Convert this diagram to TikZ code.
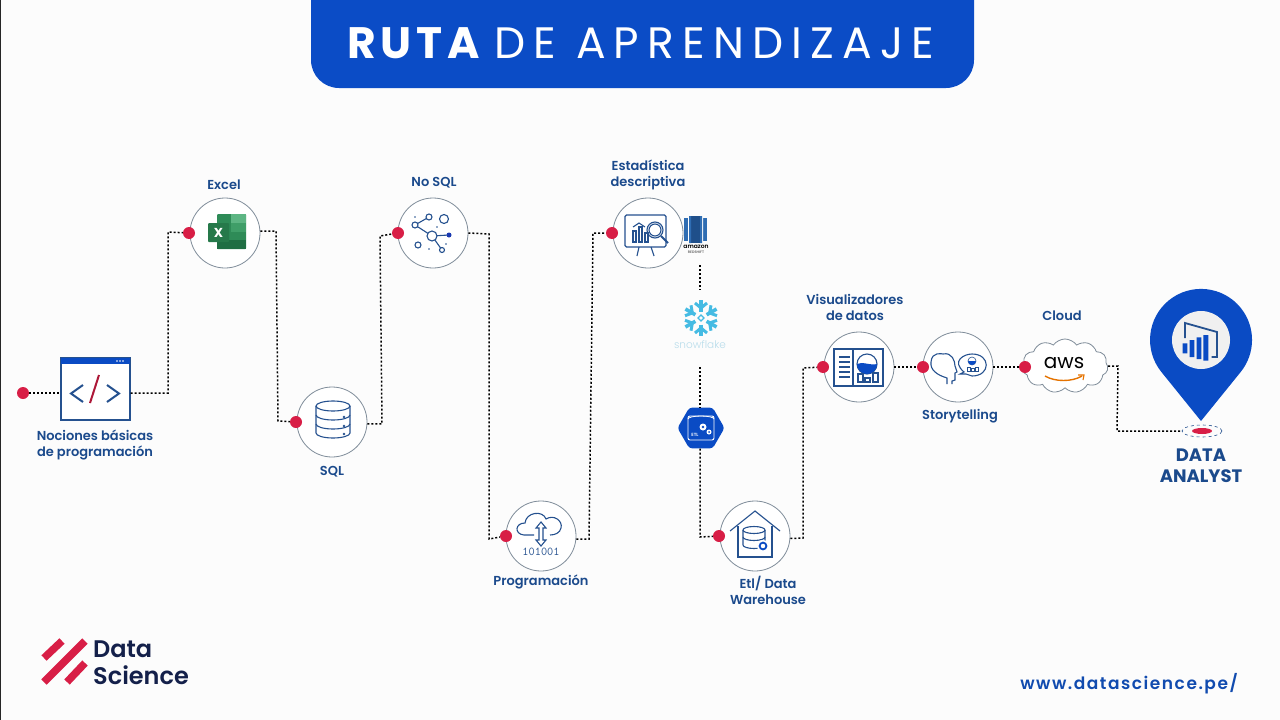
\documentclass[tikz,border=0pt]{standalone}
\usepackage{fontspec}
\setmainfont{Poppins}[UprightFont=* SemiBold,BoldFont=* Bold]
\newfontfamily\titlelight{Poppins}[LetterSpace=18.6]
\newfontfamily\titlebold{Poppins}[UprightFont=* Bold,LetterSpace=11]
\newfontfamily\thinfont{Poppins Light}
\newfontfamily\plainfont{Poppins}
\newfontfamily\urlfont{Poppins}[UprightFont=* SemiBold,LetterSpace=9]
\usetikzlibrary{shapes.geometric,shapes.symbols}
\definecolor{titleblue}{HTML}{0B4CC6}
\definecolor{labelblue}{HTML}{1B4A8C}
\definecolor{iconblue}{HTML}{25518F}
\definecolor{pinblue}{HTML}{0A4BC4}
\definecolor{dotred}{HTML}{D81E46}
\definecolor{ringgray}{HTML}{7F8C99}
\definecolor{logonavy}{HTML}{14204A}
\definecolor{snowblue}{HTML}{45BBE3}
\definecolor{xlback}{HTML}{2E8B57}
\definecolor{xllight}{HTML}{5DB583}
\definecolor{xlmid}{HTML}{3F9E68}
\definecolor{xldark}{HTML}{1F6E43}
\definecolor{xlfront}{HTML}{26794A}
\definecolor{redmid}{HTML}{2F6DB3}
\definecolor{reddark}{HTML}{1F4F8A}
\tikzset{
  lbl/.style={text=labelblue,align=center,inner sep=0,font=\fontsize{13}{16}\selectfont},
  ring/.style={circle,draw=ringgray,line width=.8pt,fill=white,minimum size=70pt,inner sep=0},
  dot/.style={circle,fill=dotred,minimum size=12pt,inner sep=0},
  route/.style={draw=black,line width=1.5pt,dash pattern=on 2pt off 2pt},
  ico/.style={draw=iconblue,line width=1.1pt},
}
\begin{document}
\begin{tikzpicture}[x=1pt,y=-1pt]
\useasboundingbox (0,0) rectangle (1280,720);
\fill[white!99!black] (0,0) rectangle (1280,720);
\fill[black!85] (0,0) rectangle (1,720);

% title
\fill[titleblue] (311,0) [rounded corners=28pt] -- (311,88) -- (974,88) [sharp corners] -- (974,0) -- cycle;
\node (title) at (641,43) [text=white,inner sep=0,font=\fontsize{44}{44}\selectfont] {\titlebold RUTA \titlelight DE APRENDIZAJE};

% steps
\path (23,393) node[dot] (dotstart) {}
      (95.5,389) node[draw=iconblue,line width=1.2pt,fill=white,minimum width=69pt,minimum height=62pt,inner sep=0] (code) {}
      (225,233) node[ring] (excel) {}
      (332,422) node[ring] (sql) {}
      (433,233) node[ring] (nosql) {}
      (541,536) node[ring] (prog) {}
      (648,233) node[ring] (stats) {}
      (755,536) node[ring] (etl) {}
      (859,367) node[ring] (viz) {}
      (958,367) node[ring] (story) {}
      (1065,366) node[cloud,cloud puffs=11,cloud puff arc=110,aspect=1.6,draw=ringgray,line width=.8pt,fill=white,minimum width=86pt,minimum height=54pt,inner sep=0] (aws) {}
      (701,428) node[regular polygon,regular polygon sides=6,fill=pinblue,minimum size=47pt,inner sep=0,rounded corners=3pt] (hex) {}
      (1202,431) node[ellipse,draw=iconblue,line width=.6pt,dashed,minimum width=40pt,minimum height=12pt,inner sep=0] (goal) {};
\path (189,233) node[dot] (dotexcel) {}
      (296,422) node[dot] (dotsql) {}
      (398,233) node[dot] (dotnosql) {}
      (506,536) node[dot] (dotprog) {}
      (612,233) node[dot] (dotstats) {}
      (719,536) node[dot] (dotetl) {}
      (823,367) node[dot] (dotviz) {}
      (923,367) node[dot] (dotstory) {}
      (1025,367) node[dot] (dotaws) {};
\coordinate (redbottom) at (700,265);
\coordinate (snowtop) at (700,290);
\coordinate (snowbottom) at (700,367);

% routes
\draw[route] (dotstart) -- (code.west |- dotstart);
\draw[route] (code.east |- dotstart) -- (168,393) -- (168,232) -- (dotexcel);
\draw[route] (excel.3) -- (276,231) -- (278,421) -- (dotsql);
\draw[route] (sql.-3) -- (382,424) -- (380,236) -- (dotnosql);
\draw[route] (nosql.east) -- (489,234) -- (489,539) -- (dotprog);
\draw[route] (prog.-5) -- (589,539) -- (593,233) -- (dotstats);
\draw[route] (redbottom) -- (snowtop);
\draw[route] (snowbottom) -- (hex.north -| snowbottom);
\draw[route] (hex.south -| snowbottom) -- (700,537) -- (dotetl);
\draw[route] (etl.-4) -- (803,538) -- (803,368) -- (dotviz);
\draw[route] (viz) -- (dotstory);
\draw[route] (story) -- (dotaws);
\draw[route] (aws.east) -- (1118,366) -- (1117,431) -- (goal.west);

% code window
\fill[pinblue] (61,358) rectangle (130,364);
\foreach \x in {117,120,123} \fill[white] (\x,361) circle[radius=.8];
\draw[iconblue,line width=2pt] (83,385) -- (71,393.5) -- (83,402);
\draw[iconblue,line width=2pt] (107,385) -- (119,393.5) -- (107,402);
\draw[dotred!80!black,line width=2pt] (99,375) -- (90,403);

% excel
\begin{scope}[shift={(225,233)}]
\fill[xlback,rounded corners=1pt] (-8,-19) rectangle (21,16);
\fill[xllight] (6,-19) rectangle (21,-10);
\fill[xlmid] (6,-10) rectangle (21,-1);
\fill[xldark] (-8,7) rectangle (21,16);
\fill[xlfront,rounded corners=1pt] (-17,-10) rectangle (4,9);
\node (excelx) at (-6.5,-.5) [text=white,inner sep=0,font=\fontsize{13}{13}\selectfont\bfseries] {X};
\end{scope}

% database
\begin{scope}[shift={(332,422)}]
\draw[ico] (-16,-16) -- (-16,11) arc[start angle=180,end angle=0,x radius=17,y radius=5] -- (18,-16);
\draw[ico] (1,-16) ellipse[x radius=17,y radius=5];
\draw[ico] (-16,-7) arc[start angle=180,end angle=0,x radius=17,y radius=5];
\draw[ico] (-16,2) arc[start angle=180,end angle=0,x radius=17,y radius=5];
\foreach \y in {-5,4,12} \fill[iconblue] (12,\y) circle[radius=1.4];
\end{scope}

% graph
\begin{scope}[shift={(433,233)}]
\draw[ico] (-18,-8) -- (-4,-16) (-18,-8) -- (-1,3) -- (16,2) (-1,3) -- (9,17);
\fill[white] (-1,3) circle[radius=5] (-18,-8) circle[radius=3] (-4,-16) circle[radius=3] (9,17) circle[radius=2.5];
\draw[ico] (-1,3) circle[radius=5] (-18,-8) circle[radius=3] (-4,-16) circle[radius=3] (9,17) circle[radius=2.5]
  (11,-14) circle[radius=4.5] (-15,12) circle[radius=3];
\fill[iconblue!70!blue] (16,2) circle[radius=2.5];
\fill[iconblue] (-18,-16) circle[radius=.8] (4,-6) circle[radius=.8] (-4,16) circle[radius=.8] (13,11) circle[radius=.8];
\end{scope}

% cloud with binary
\begin{scope}[shift={(541,536)}]
\draw[ico] (-7,-1) -- (-17,-1) .. controls (-27,-2) and (-26,-13) .. (-16,-13) .. controls (-15,-24) and (2,-26) .. (5,-17) .. controls (13,-22) and (22,-15) .. (20,-8) .. controls (19,-3) and (14,-1) .. (9,-1);
\draw[ico] (-5,-8) -- (0,-14) -- (5,-8) -- (2,-8) -- (2,4) -- (5,4) -- (0,10) -- (-5,4) -- (-2,4) -- (-2,-8) -- cycle;
\node (binary) at (0,16) [text=iconblue,inner sep=0,font=\fontsize{12}{12}\ttfamily] {101001};
\end{scope}

% board
\begin{scope}[shift={(648,233)}]
\draw[ico,rounded corners=1.5pt] (-23,-18) rectangle (18,14);
\draw[ico] (-9,14) -- (-11,23) (3,14) -- (6,23);
\fill[white] (7,-3) circle[radius=9];
\draw[ico] (7,-3) circle[radius=8] (7,-3) circle[radius=6];
\draw[ico,line width=1.8pt] (13,3) -- (20,10);
\draw[ico] (-15,-2) rectangle (-12,9) (-9,-6) rectangle (-6,9) (-3,0) rectangle (0,9);
\draw[ico] (-15,-6) -- (-9,-10) -- (-3,-6);
\end{scope}

% redshift
\fill[redmid] (684,218) rectangle (707,241);
\fill[white] (688,218) rectangle (689,241) (702,218) rectangle (703,241);
\fill[reddark] (691,216) rectangle (700,243);
\fill[redmid] (689,216) rectangle (691,243) (700,216) rectangle (702,243);
\node (redname) at (696,246.5) [inner sep=0,font=\fontsize{6}{6}\selectfont] {amazon};
\node (redsub) at (696,252) [inner sep=0,text=black!60,font=\fontsize{3.5}{3.5}\selectfont] {REDSHIFT};

% snowflake
\begin{scope}[shift={(701,318)}]
\foreach \a in {30,90,150,210,270,330} {
  \begin{scope}[rotate=\a]
  \draw[snowblue,line width=3.6pt] (6.5,0) -- (18,0);
  \draw[snowblue,line width=3pt] (15,-6) -- (10,0) -- (15,6);
  \end{scope}
}
\draw[snowblue,line width=1.3pt] (0,-3) -- (3,0) -- (0,3) -- (-3,0) -- cycle;
\end{scope}
\node (snowname) at (700,344.5) [inner sep=0,text=black!25!cyan!30,font=\fontsize{10.5}{10.5}\thinfont] {snowflake};

% etl badge
\begin{scope}[shift={(701,428)}]
\draw[white,line width=.9pt,rounded corners=2pt] (-13,-12) rectangle (13,12);
\draw[white,line width=.8pt] (-13,-9) arc[start angle=180,end angle=360,x radius=13,y radius=3];
\fill[white] (2,-1) circle[radius=3.5] (8,4) circle[radius=2.5];
\fill[pinblue] (2,-1) circle[radius=1.4] (8,4) circle[radius=1];
\node (etltag) at (-6,7) [text=white,inner sep=0,font=\fontsize{4.5}{4.5}\selectfont] {ETL};
\end{scope}

% warehouse
\begin{scope}[shift={(755,536)}]
\draw[ico] (-25,-5) -- (0,-25) -- (25,-5);
\draw[ico] (-17,-10) -- (-17,21) -- (17,21) -- (17,-10);
\fill[white] (-12,-6) rectangle (10,12);
\draw[ico] (-12,-6) -- (-12,9) arc[start angle=180,end angle=0,x radius=11,y radius=3.5] -- (10,-6);
\draw[ico] (-1,-6) ellipse[x radius=11,y radius=3.5];
\draw[ico] (-12,1) arc[start angle=180,end angle=0,x radius=11,y radius=3.5];
\fill[white] (8,10) circle[radius=6];
\draw[pinblue,line width=1.8pt] (8,10) circle[radius=3.4];
\end{scope}

% dashboard
\begin{scope}[shift={(859,367)}]
\draw[ico] (-25,-18) rectangle (24,19);
\draw[ico] (-6,-18) -- (-6,19);
\foreach \y in {-10,-5,0,5,10} \draw[ico] (-20,\y) -- (-9,\y);
\draw[ico] (8,-3) circle[radius=10];
\fill[pinblue] (18,-3) arc[start angle=0,end angle=180,radius=10] .. controls (3,-6) and (12,-1) .. (18,-3);
\draw[ico] (-1,7) rectangle (4,15) (6,11) rectangle (11,15) (14,6) rectangle (19,15);
\end{scope}

% head and bubble
\begin{scope}[shift={(958,367)}]
\draw[ico] (-11,17) -- (-11,11) .. controls (-21,8) and (-28,3) .. (-27,-5) .. controls (-26,-16) and (-16,-13) .. (-15,-13) .. controls (-6,-15) and (-3,-6) .. (-3,-1) -- (-1,5) -- (-3,6) -- (-3,13) -- (-6,14) -- (-6,17);
\draw[ico,fill=white] (2,7) -- (6,5) .. controls (-7,-6) and (6,-13) .. (14,-13) .. controls (33,-13) and (33,9) .. (14,9) -- (8,7) -- cycle;
\draw[ico,line width=.6pt] (14,-6) circle[radius=4];
\fill[pinblue] (18,-6) arc[start angle=0,end angle=180,radius=4] -- cycle;
\draw[ico,line width=.5pt] (9,0) rectangle (12,4) (13,1) rectangle (16,4) (17,0) rectangle (20,4);
\end{scope}

% aws mark
\node (awsname) at (1064,363) [inner sep=0,font=\fontsize{20}{20}\plainfont] {aws};
\draw[orange!90!black,line width=1.4pt] (1045,376) .. controls (1055,382) and (1072,382) .. (1082,376);
\draw[orange!90!black,line width=1.1pt] (1078,375) -- (1084,375) -- (1083,380);

% pin
\fill[pinblue] (1201,421) -- (1161.4,372) arc[start angle=141,end angle=399,radius=51] -- cycle;
\fill[black!6] (1201,340) circle[radius=29];
\begin{scope}[shift={(1201,340)}]
\fill[pinblue] (-18.3,3.3) rectangle (-13.7,13.3) (-11.3,0) rectangle (-6.7,17) (-4.3,-2.7) rectangle (.3,19) (2.3,-5) rectangle (7.3,20.7);
\draw[iconblue,line width=1.8pt] (-16,-2) -- (-16,-17) -- (16,-8) -- (16,17) -- (10.5,17);
\end{scope}
\fill[dotred] (1202,431) ellipse[x radius=10,y radius=3];

% labels
\node[lbl] (lblcode) at (95,445) {Nociones básicas\\de programación};
\node[lbl] (lblexcel) at (224,185) {Excel};
\node[lbl] (lblsql) at (332,472) {SQL};
\node[lbl] (lblnosql) at (434,183) {No SQL};
\node[lbl] (lblprog) at (541,582) {Programación};
\node[lbl] (lblstats) at (648,175) {Estadística\\descriptiva};
\node[lbl] (lbletl) at (768,590) {Etl/ Data\\Warehouse};
\node[lbl] (lblviz) at (855,307) {Visualizadores\\de datos};
\node[lbl] (lblstory) at (960,416) {Storytelling};
\node[lbl] (lblcloud) at (1062,316) {Cloud};
\node (lblgoal) at (1201,466) [text=labelblue,align=center,inner sep=0,font=\fontsize{18}{21}\selectfont\bfseries] {DATA\\ANALYST};

% logo
\draw[dotred,line width=7.5pt] (44,658) -- (62,641);
\draw[dotred,line width=7.5pt] (44,682) -- (85,641);
\draw[dotred,line width=7.5pt] (67,682) -- (85,663);
\node (logodata) at (93,649) [anchor=west,text=logonavy,inner sep=0,font=\fontsize{24}{24}\selectfont] {Data};
\node (logosci) at (93,675) [anchor=west,text=logonavy,inner sep=0,font=\fontsize{24}{24}\selectfont] {Science};
\node (url) at (1238,683.5) [anchor=east,text=titleblue!60!labelblue,inner sep=0,font=\fontsize{17}{17}\urlfont] {www.datascience.pe/};
\end{tikzpicture}
\end{document}
